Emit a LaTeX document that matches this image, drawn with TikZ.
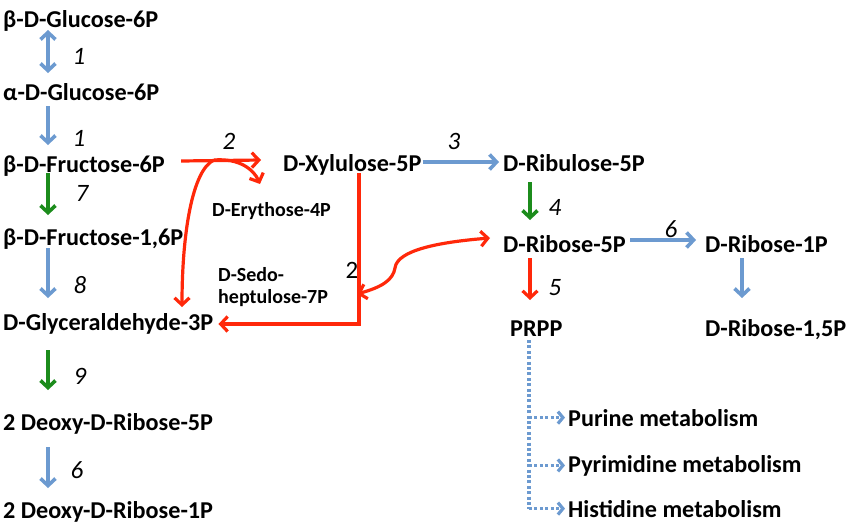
\documentclass[tikz,border=0pt]{standalone}
\usepackage{fontspec}
\setmainfont{Carlito}
\usetikzlibrary{arrows.meta,calc}
\definecolor{cblue}{RGB}{108,154,208}
\definecolor{cred}{RGB}{255,40,10}
\definecolor{cgreen}{RGB}{28,140,28}
\tikzset{
  met/.style={anchor=base west,inner sep=0pt,font=\fontsize{24.2}{27}\selectfont\bfseries},
  smet/.style={anchor=base west,inner sep=0pt,font=\fontsize{20}{22}\selectfont\bfseries,align=left},
  num/.style={inner sep=0pt,font=\fontsize{25}{27}\selectfont\itshape},
  arr/.style={line width=3.6pt,-{Straight Barb[length=7pt,width=15pt]}},
  barr/.style={arr,cblue},
  garr/.style={arr,cgreen},
  rarr/.style={arr,cred,line width=3.2pt},
  dotl/.style={cblue,line width=3.4pt,dash pattern=on 3pt off 2.4pt},
  darr/.style={dotl,-{Straight Barb[length=5pt,width=12pt,line width=3.2pt]}},
}
\begin{document}
\begin{tikzpicture}[x=1pt,y=-1pt]
\useasboundingbox (0,0) rectangle (850,525);
% metabolites
\node[met] (bg)  at (3,27)  {β-D-Glucose-6P};
\node[met] (ag)  at (3,100) {α-D-Glucose-6P};
\node[met] (bf6) at (3,172) {β-D-Fructose-6P};
\node[met] (bf16) at (3,245) {β-D-Fructose-1,6P};
\node[met] (gap) at (3,330) {D-Glyceraldehyde-3P};
\node[met] (d5)  at (3,430) {2 Deoxy-D-Ribose-5P};
\node[met] (d1)  at (3,518) {2 Deoxy-D-Ribose-1P};
\node[met] (xyl) at (283,171) {D-Xylulose-5P};
\node[met] (rul) at (503,171) {D-Ribulose-5P};
\node[met] (r5)  at (503,252) {D-Ribose-5P};
\node[met] (r1)  at (705,252) {D-Ribose-1P};
\node[met] (prpp) at (510,336) {PRPP};
\node[met] (r15) at (705,336) {D-Ribose-1,5P};
\node[met] (pur) at (568,426) {Purine metabolism};
\node[met] (pyr) at (568,472) {Pyrimidine metabolism};
\node[met] (his) at (568,517) {Histidine metabolism};
\node[smet] (ery) at (212,216) {D-Erythose-4P};
\node[smet] (sed) at (218,281) {D-Sedo-};
\node[smet] (sed2) at (218,303) {heptulose-7P};
% numbers
\node[num] (n1a) at (79,56) {1};
\node[num] (n1b) at (79,138) {1};
\node[num] (n7) at (82,193) {7};
\node[num] (n8) at (80,285) {8};
\node[num] (n9) at (80,376) {9};
\node[num] (n6a) at (77,470) {6};
\node[num] (n2a) at (229,141) {2};
\node[num] (n3) at (454,141) {3};
\node[num] (n4) at (555,207) {4};
\node[num] (n6b) at (671,229) {6};
\node[num] (n5) at (555,288) {5};
\node[num,font=\fontsize{25}{27}\selectfont] (n2b) at (352,270) {2};
% left column
\draw[barr,{Straight Barb[length=7pt,width=15pt]}-{Straight Barb[length=7pt,width=15pt]}]
  ($(bg.base west)+(45,3)$) -- ($(ag.base west)+(45,-27)$);
\draw[barr] ($(ag.base west)+(45,6)$) -- ($(bf6.base west)+(45,-27)$);
\draw[garr] ($(bf6.base west)+(45,1)$) -- ($(bf16.base west)+(45,-30)$);
\draw[barr] ($(bf16.base west)+(45,3)$) -- ($(gap.base west)+(45,-32)$);
\draw[garr] ($(gap.base west)+(45,20)$) -- ($(d5.base west)+(45,-40)$);
\draw[barr] ($(d5.base west)+(45,17)$) -- ($(d1.base west)+(45,-30)$);
% right part
\draw[barr] ($(xyl.base east)+(1,-9)$) -- ($(rul.base west)+(-4,-9)$);
\draw[garr] ($(rul.base west)+(27,11)$) -- ($(r5.base west)+(27,-32)$);
\draw[barr] ($(r5.base east)+(4,-12)$) -- ($(r1.base west)+(-9,-12)$);
\draw[barr] ($(r1.base west)+(37,6)$) -- ($(r15.base west)+(37,-38)$);
\draw[rarr] ($(r5.base west)+(27,6)$) -- ($(prpp.base west)+(20,-36)$);
% red pentose phosphate arrows
\coordinate (br) at (214,160);
\draw[rarr] ($(bf6.base east)+(16,-11)$) -- ($(xyl.base west)+(-22,-11)$);
\draw[rarr] (br) .. controls (240,158) and (254,170) .. (260,184);
\draw[rarr] (br) .. controls (192,170) and (182,235) .. (182,307);
\draw[rarr] ($(xyl.base west)+(76,2)$) |- ($(gap.base east)+(5,-6)$);
\draw[rarr,{Straight Barb[length=7pt,width=15pt]}-{Straight Barb[length=7pt,width=15pt]}]
  (357,294) .. controls (382,287) and (393,280) .. (395,268)
  .. controls (397,250) and (440,242) .. ($(r5.base west)+(-13,-14)$);
% PRPP dotted
\coordinate (dv) at ($(prpp.base west)+(19,4)$);
\draw[dotl] (dv) -- (dv |- his.west);
\draw[darr] (dv |- pur.west) -- ($(pur.west)+(-3,0)$);
\draw[darr] (dv |- pyr.west) -- ($(pyr.west)+(-3,0)$);
\draw[darr] (dv |- his.west) -- ($(his.west)+(-3,0)$);
\end{tikzpicture}
\end{document}
